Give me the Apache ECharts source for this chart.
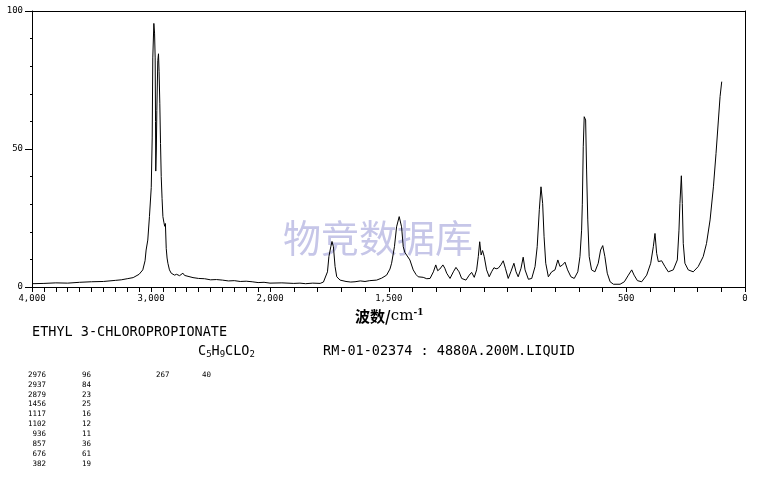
<!DOCTYPE html>
<html><head><meta charset="utf-8">
<script src="https://cdn.jsdelivr.net/npm/echarts@6/dist/echarts.min.js"></script>
<style>html,body{margin:0;padding:0;background:#fff}#c{width:761px;height:477px}</style>
</head><body><div id="c"></div>
<script>
// Raman spectrum, wavenumber (cm-1) and relative intensity
const wavenumbers = [4000,3900,3800,3700,3600,3500,3400,3300,3250,3200,3150,3139,3100,3069,3050,3041,3027,3013,2998,2990,2985,2976,2970,2965,2962,2960,2955,2951,2943,2937,2932,2926,2920,2914,2907,2900,2892,2885,2879,2872,2865,2858,2845,2830,2802,2785,2779,2770,2760,2745,2732,2718,2703,2647,2600,2550,2500,2450,2400,2350,2300,2250,2200,2150,2100,2050,2000,
1950,1900,1874,1850,1820,1789,1775,1768,1758,1752,1744,1739,1733,1726,1719,1705,1680,1660,1642,1620,1600,1580,1551,1530,1509,1495,1488,1476,1467,1456,1446,1439,1432,1425,1411,1397,1385,1376,1355,1340,1326,1312,1302,1294,1285,1272,1264,1256,1242,1228,1217,1204,1193,1175,1161,1151,1140,1130,1123,1117,1111,1105,1098,1088,1077,1067,1057,1048,1039,1028,1018,1009,997,986,973,964,955,943,934,926,912,898,884,875,866,859,852,846,839,828,814,800,788,779,768,758,747,733,719,704,695,688,685,681,677,671,667,662,656,646,632,618,608,599,590,580,568,554,526,508,491,477,467,453,435,414,397,386,379,372,365,351,337,323,302,285,278,274,268,264,260,253,239,218,197,176,162,147,133,122,112,105,98];
const intensities = [1.2,1.3,1.5,1.4,1.7,1.9,2.0,2.4,2.6,3.0,3.4,3.7,4.6,6.2,9.5,13.4,17,25.5,36,54,83,95.5,92,83,60,42,50,64,82,84.5,78,66.6,52,40,32,25.5,23.5,22,23,14,10.5,8.6,6.2,5,4.3,4.6,5.1,4.3,4.1,4.6,5.0,4.2,3.7,3.4,3.1,3.0,2.6,2.7,2.5,2.2,2.3,2.0,2.1,1.9,1.6,1.7,1.4,
1.5,1.3,1.4,1.2,1.4,1.3,1.8,2.5,5.5,11,14.6,16.5,14.6,7.4,3.7,2.5,2.0,1.8,1.9,2.2,2.0,2.3,2.5,3.2,4.3,6.5,8.6,14.6,21.8,25.5,21.8,14.6,12.5,11.6,9.8,6.2,4.5,3.7,3.5,3.0,3.1,5.5,8,5.9,6.5,8,6.8,5.0,3.1,5.5,7.1,5.5,3.1,2.5,4.3,5.3,3.5,6.2,11,16.4,11.6,13.2,11,6.2,3.7,5.5,7,6.6,6.8,8,9.5,6.8,3.1,5.5,8.6,5.5,3.7,6.8,10.8,6.2,2.8,3.1,7.4,14.6,28,36.3,30.3,18.2,8.6,3.7,5.5,6.2,9.8,7.4,8,9,6.2,3.7,3.1,5.5,11,20.6,30,50.8,61.7,60.5,42.4,24.3,11,6.2,5.5,8.6,13.4,15,11,5,1.9,1,1,1.9,4.3,6.2,4.3,2.3,1.9,4.3,8.6,14.6,19.4,12.2,9.2,9.5,7.4,5.5,6.2,9.8,20.6,30.3,40.3,30.3,15.8,8.6,6.2,5.5,7.4,11,15.8,24.3,36.3,48.4,60.5,69,74.4];
const xLabelsHigh = [4000, 3000, 2000];
const xLabelsLow = [1500, 500, 0];
const xTicksHigh = [4000,3900,3800,3700,3600,3500,3400,3300,3200,3100,3000,2900,2800,2700,2600,2500,2400,2300,2200,2100,2000];
const xTicksLow = [2000,1900,1800,1700,1600,1500,1400,1300,1200,1100,1000,900,800,700,600,500,400,300,200,100,0];
const yLabelsShown = [0, 50, 100];
const peakWn = ['2976','2937','2879','1456','1117','1102','936','857','676','382'];
const peakInt = ['96','84','23','25','16','12','11','36','61','19'];
const peakWn2 = ['267'];
const peakInt2 = ['40'];
const compoundName = 'ETHYL 3-CHLOROPROPIONATE';
const sampleInfo = 'RM-01-02374 : 4880A.200M.LIQUID';
const watermark = '物竞数据库';

const pts = wavenumbers.map((w, i) => [w, intensities[i]]);
const highPart = pts.filter(p => p[0] >= 2000);
const lowPart = pts.filter(p => p[0] <= 2000);

const mono = 'DejaVu Sans Mono';
const lineBlack = { show: true, onZero: false, lineStyle: { color: '#000', width: 1 } };
const chart = echarts.init(document.getElementById('c'));
function bottomAxis(gi, mn, mx, ticks, labels) {
  return {
    type: 'value', gridIndex: gi, min: mn, max: mx, inverse: true, z: 10,
    splitLine: { show: false },
    axisLine: lineBlack,
    axisTick: { show: true, length: 5, customValues: ticks, lineStyle: { color: '#000', width: 1 } },
    axisLabel: { show: true, margin: 7, fontFamily: mono, fontSize: 9, color: '#000', customValues: labels }
  };
}
const topAxis = {
  type: 'value', inverse: true, position: 'top', splitLine: { show: false },
  axisLine: lineBlack, axisTick: { show: false }, axisLabel: { show: false }
};
chart.setOption({
  animation: false,
  grid: [
    { left: 32, top: 11, width: 238, height: 276 },
    { left: 270, top: 11, width: 475, height: 276 }
  ],
  xAxis: [
    bottomAxis(0, 2000, 4000, xTicksHigh, xLabelsHigh),
    bottomAxis(1, 0, 2000, xTicksLow, xLabelsLow),
    Object.assign({}, topAxis, { gridIndex: 0, min: 2000, max: 4000 }),
    Object.assign({}, topAxis, { gridIndex: 1, min: 0, max: 2000 })
  ],
  yAxis: [
    { type: 'value', gridIndex: 0, min: 0, max: 100, interval: 50, position: 'left', splitLine: { show: false },
      axisLine: lineBlack,
      axisTick: { show: true, length: 7, lineStyle: { color: '#000' } },
      minorTick: { show: true, splitNumber: 5, length: 2, lineStyle: { color: '#000' } },
      axisLabel: { margin: 9, fontFamily: mono, fontSize: 9, color: '#000',
        formatter: v => yLabelsShown.includes(v) ? String(v) : '' } },
    { type: 'value', gridIndex: 1, min: 0, max: 100, position: 'right', splitLine: { show: false },
      axisLine: lineBlack, axisTick: { show: false }, axisLabel: { show: false } }
  ],
  title: [
    { text: watermark, left: 283, top: 219, padding: 0, z: 0,
      textStyle: { fontFamily: 'Noto Sans CJK SC', fontSize: 38, fontWeight: 'normal', color: '#c6c6e8', lineHeight: 38 } },
    { text: '波数/{cm|cm}{sup|-1}', left: 355, top: 308, padding: 0,
      textStyle: { fontFamily: 'Noto Sans CJK SC', fontSize: 15, fontWeight: 'bold', color: '#000', lineHeight: 16,
        rich: { cm: { fontFamily: 'DejaVu Serif', fontSize: 15, fontWeight: 'normal', color: '#000' },
                sup: { fontFamily: 'DejaVu Serif', fontSize: 9, color: '#000', verticalAlign: 'top', padding: [0,0,8,0] } } } },
    { text: compoundName, left: 32, top: 326, padding: 0,
      textStyle: { fontFamily: mono, fontSize: 13.5, fontWeight: 'normal', color: '#000', lineHeight: 13 } },
    { text: 'C{s|5}H{s|9}CLO{s|2}', left: 198, top: 345, padding: 0,
      textStyle: { fontFamily: mono, fontSize: 13.5, fontWeight: 'normal', color: '#000', lineHeight: 13,
        rich: { s: { fontFamily: mono, fontSize: 9, color: '#000', padding: [6,0,0,0] } } } },
    { text: sampleInfo, left: 323, top: 345, padding: 0,
      textStyle: { fontFamily: mono, fontSize: 13.5, fontWeight: 'normal', color: '#000', lineHeight: 13 } },
    { text: peakWn.join('\n'), left: 46, textAlign: 'right', top: 370, padding: 0,
      textStyle: { fontFamily: mono, fontSize: 7.5, fontWeight: 'normal', color: '#000', lineHeight: 9.85, align: 'right' } },
    { text: peakInt.join('\n'), left: 82, top: 370, padding: 0,
      textStyle: { fontFamily: mono, fontSize: 7.5, fontWeight: 'normal', color: '#000', lineHeight: 9.85 } },
    { text: peakWn2.join('\n'), left: 156, top: 370, padding: 0,
      textStyle: { fontFamily: mono, fontSize: 7.5, fontWeight: 'normal', color: '#000', lineHeight: 9.85 } },
    { text: peakInt2.join('\n'), left: 202, top: 370, padding: 0,
      textStyle: { fontFamily: mono, fontSize: 7.5, fontWeight: 'normal', color: '#000', lineHeight: 9.85 } }
  ],
  series: [
    { type: 'line', xAxisIndex: 0, yAxisIndex: 0, data: highPart, showSymbol: false, z: 5,
      lineStyle: { color: '#000', width: 1 }, silent: true },
    { type: 'line', xAxisIndex: 1, yAxisIndex: 1, data: lowPart, showSymbol: false, z: 5,
      lineStyle: { color: '#000', width: 1 }, silent: true }
  ]
});
</script></body></html>
